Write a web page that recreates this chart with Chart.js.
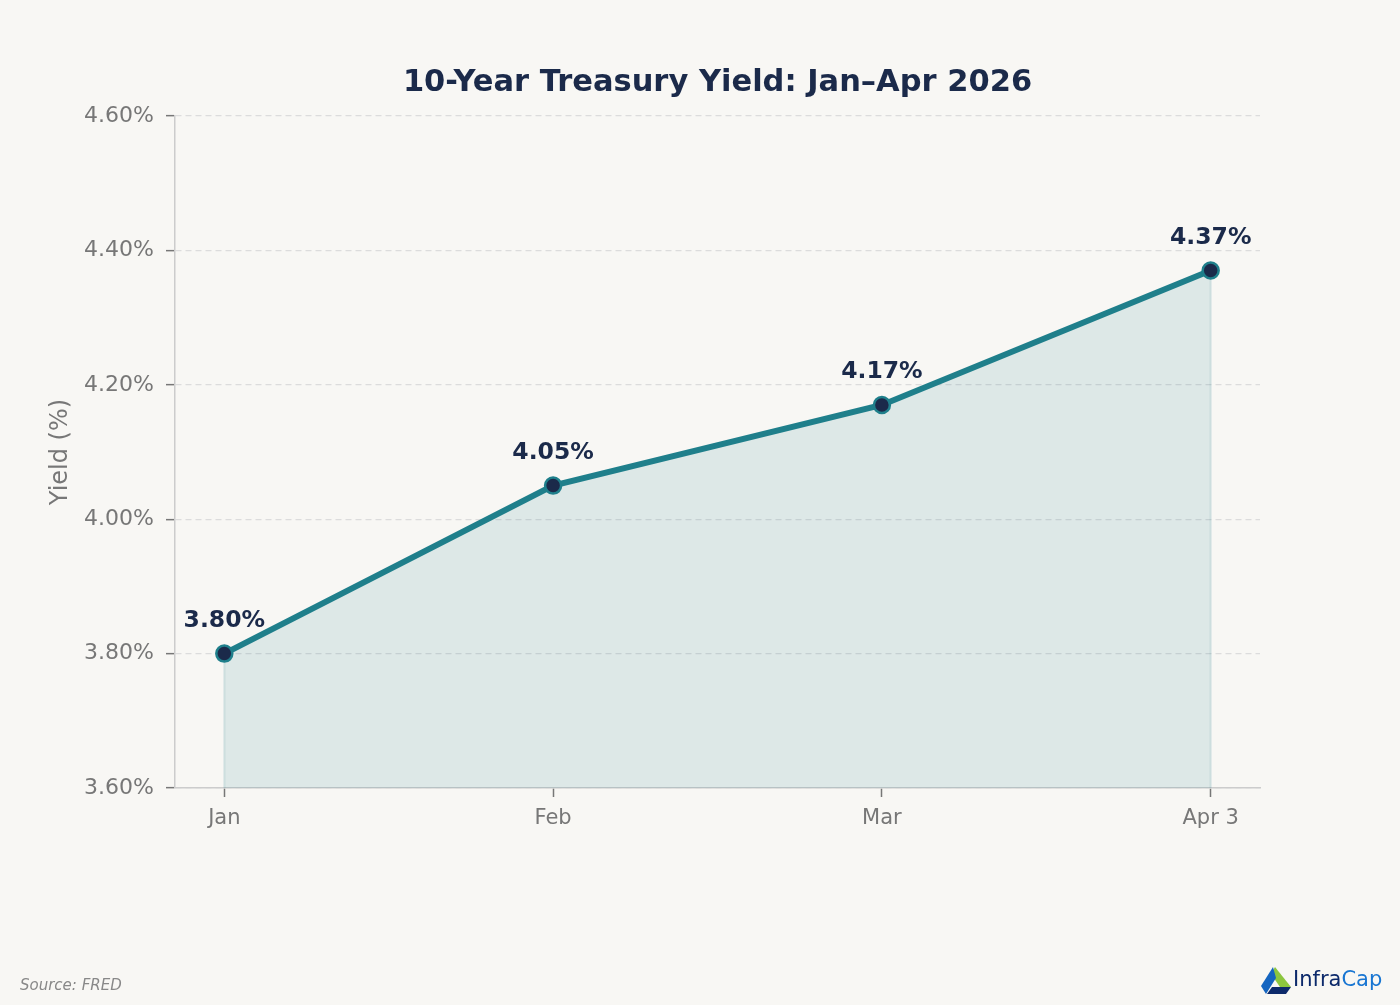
<!DOCTYPE html>
<html>
<head>
<meta charset="utf-8">
<script src="https://cdn.jsdelivr.net/npm/chart.js@4"></script>
<style>
  html, body { margin: 0; padding: 0; background: #f8f7f4; }
  #wrap { width: 1400px; height: 1005px; }
</style>
</head>
<body>
<div id="wrap"><canvas id="yield-chart" width="1400" height="1005"></canvas></div>
<script>
// data
var months = ["Jan", "Feb", "Mar", "Apr 3"];
var yields = [3.80, 4.05, 4.17, 4.37];
var yTicks = [3.6, 3.8, 4.0, 4.2, 4.4, 4.6];

var navy = "#1b2a4a";
var teal = "#1f7f8b";
var grey = "#777777";
var font = "'DejaVu Sans', sans-serif";

var points = yields.map(function (v, i) { return { x: i, y: v }; });

var extras = {
    id: "extras",
    beforeDraw: function (chart) {
        var ctx = chart.ctx;
        ctx.save();
        ctx.fillStyle = "#f8f7f4";
        ctx.fillRect(0, 0, chart.width, chart.height);
        ctx.restore();
    },
    beforeDatasetsDraw: function (chart) {
        // pale edges of the filled area
        var ctx = chart.ctx;
        var xs = chart.scales.x, ys = chart.scales.y;
        ctx.save();
        ctx.strokeStyle = "rgba(31,127,139,0.15)";
        ctx.lineWidth = 2;
        [0, points.length - 1].forEach(function (i) {
            var px = xs.getPixelForValue(points[i].x);
            ctx.beginPath();
            ctx.moveTo(px, ys.getPixelForValue(points[i].y));
            ctx.lineTo(px, ys.bottom);
            ctx.stroke();
        });
        ctx.restore();
    },
    afterDatasetsDraw: function (chart) {
        var ctx = chart.ctx;
        var area = chart.chartArea;
        var meta = chart.getDatasetMeta(0);
        ctx.save();

        // value labels
        ctx.fillStyle = navy;
        ctx.font = "bold 23.5px " + font;
        ctx.textAlign = "center";
        ctx.textBaseline = "middle";
        meta.data.forEach(function (pt, i) {
            ctx.fillText(yields[i].toFixed(2) + "%", pt.x, pt.y - 33);
        });

        // title
        ctx.font = "bold 30.5px " + font;
        ctx.fillText("10-Year Treasury Yield: Jan\u2013Apr 2026", (area.left + area.right) / 2, 83);

        // y axis title
        ctx.save();
        ctx.translate(61, (area.top + area.bottom) / 2);
        ctx.rotate(-Math.PI / 2);
        ctx.fillStyle = grey;
        ctx.font = "24px " + font;
        ctx.fillText("Yield (%)", 0, 0);
        ctx.restore();

        // source
        ctx.textAlign = "left";
        ctx.fillStyle = "#888888";
        ctx.font = "italic 15px " + font;
        ctx.fillText("Source: FRED", 20, 986);

        // logo mark
        ctx.fillStyle = "#8cc63f";
        ctx.beginPath();
        ctx.moveTo(1275, 967); ctx.lineTo(1291, 987); ctx.lineTo(1280, 987); ctx.lineTo(1271, 974);
        ctx.closePath(); ctx.fill();
        ctx.fillStyle = "#1565c0";
        ctx.beginPath();
        ctx.moveTo(1273, 967); ctx.lineTo(1261, 986); ctx.lineTo(1266, 994); ctx.lineTo(1276, 978);
        ctx.closePath(); ctx.fill();
        ctx.fillStyle = "#0d2a6b";
        ctx.beginPath();
        ctx.moveTo(1267, 994); ctx.lineTo(1286, 994); ctx.lineTo(1291, 987); ctx.lineTo(1272, 987);
        ctx.closePath(); ctx.fill();

        // logo text
        ctx.font = "21px " + font;
        ctx.fillStyle = "#0d2a6b";
        ctx.fillText("Infra", 1293, 981);
        var w = ctx.measureText("Infra").width;
        ctx.fillStyle = "#1976d2";
        ctx.fillText("Cap", 1293 + w, 981);

        ctx.restore();
    }
};

new Chart(document.getElementById("yield-chart"), {
    type: "line",
    data: {
        datasets: [
            {
                label: "10-Year Treasury Yield",
                data: points,
                borderColor: teal,
                borderWidth: 6,
                backgroundColor: "rgba(31,127,139,0.12)",
                fill: "start",
                tension: 0,
                pointRadius: 8,
                pointBorderWidth: 2.5,
                pointBackgroundColor: navy,
                pointBorderColor: teal
            }
        ]
    },
    options: {
        responsive: false,
        devicePixelRatio: 1,
        animation: false,
        layout: {
            autoPadding: false,
            padding: { top: 116, right: 140, bottom: 0, left: 0 }
        },
        plugins: {
            legend: { display: false },
            tooltip: { enabled: false },
            title: { display: false }
        },
        scales: {
            x: {
                type: "linear",
                min: -0.15,
                max: 3.15,
                afterFit: function (scale) { scale.height = 217; },
                afterBuildTicks: function (scale) {
                    scale.ticks = months.map(function (m, i) { return { value: i }; });
                },
                ticks: {
                    color: grey,
                    font: { family: font, size: 21 },
                    padding: 9,
                    callback: function (v) { return months[v]; }
                },
                grid: {
                    drawOnChartArea: false,
                    tickLength: 9,
                    tickColor: "#777777",
                    tickWidth: 1.5
                },
                border: { color: "#cccccc", width: 1.5 }
            },
            y: {
                min: 3.6,
                max: 4.6,
                afterFit: function (scale) { scale.width = 175; },
                afterBuildTicks: function (scale) {
                    scale.ticks = yTicks.map(function (v) { return { value: v }; });
                },
                ticks: {
                    color: grey,
                    font: { family: font, size: 22 },
                    padding: 12,
                    callback: function (v) { return v.toFixed(2) + "%"; }
                },
                grid: {
                    color: "#dcdcdc",
                    lineWidth: 1.3,
                    tickLength: 9,
                    tickColor: "#777777",
                    tickWidth: 1.5,
                    tickBorderDash: []
                },
                border: { color: "#cccccc", width: 1.5, dash: [6, 4] }
            }
        }
    },
    plugins: [extras]
});
</script>
</body>
</html>
